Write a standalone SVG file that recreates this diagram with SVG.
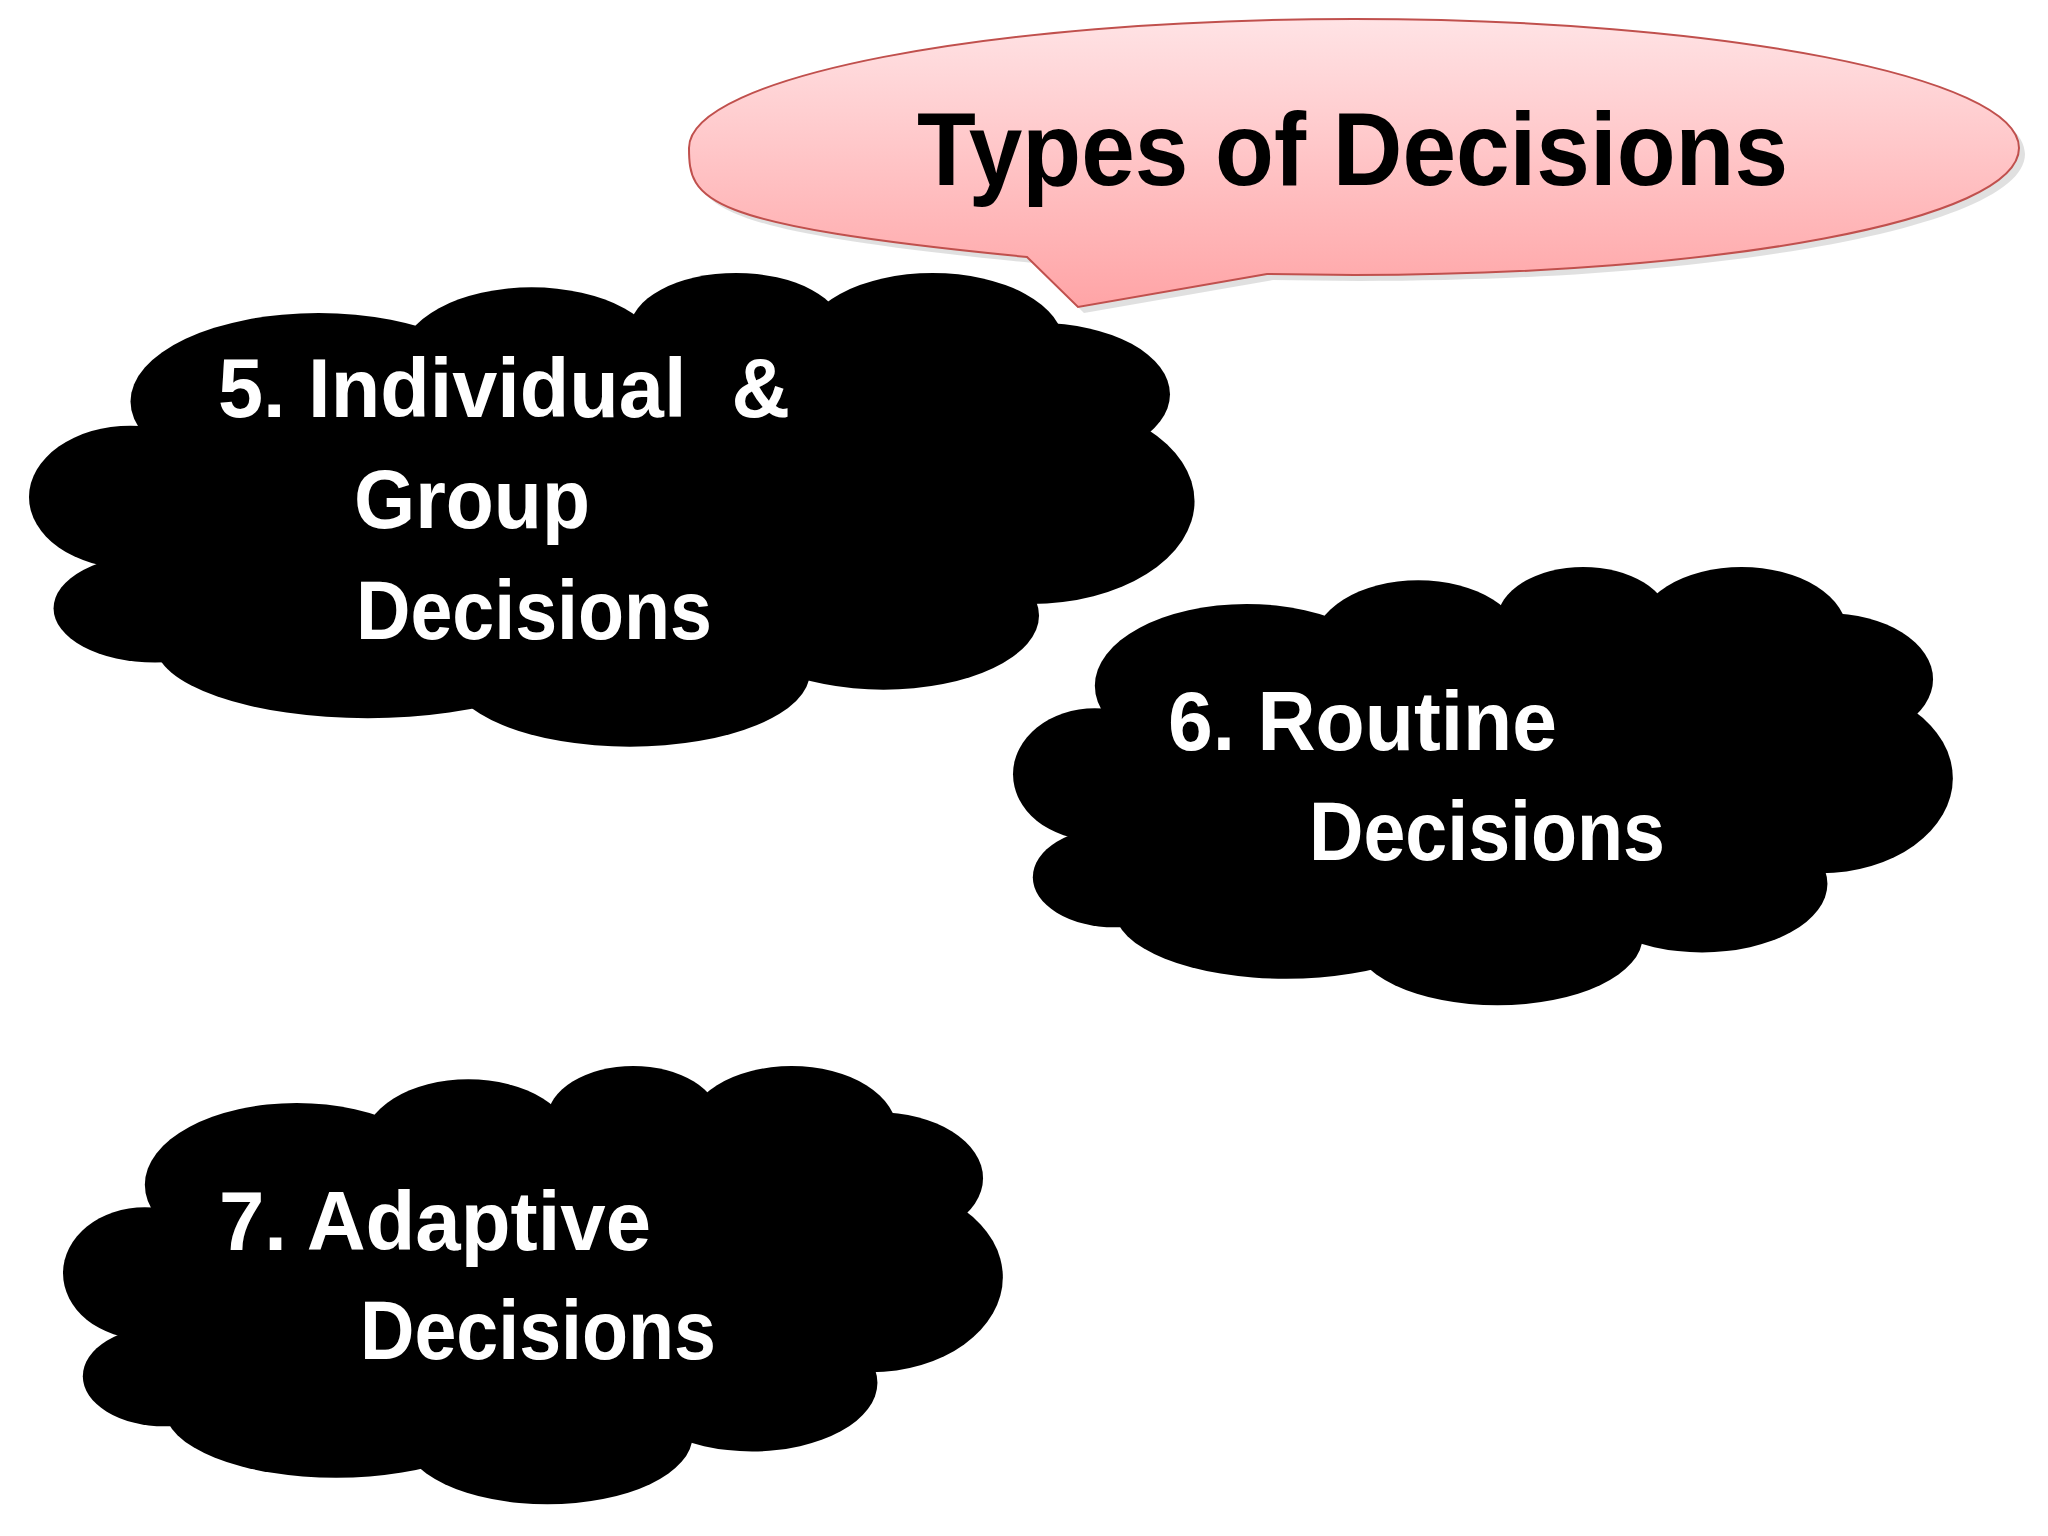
<svg xmlns="http://www.w3.org/2000/svg" width="2048" height="1536" viewBox="0 0 2048 1536">
<defs>
<linearGradient id="pk" x1="0" y1="0" x2="0" y2="1">
<stop offset="0" stop-color="#ffe3e5"/><stop offset="1" stop-color="#ffa4a6"/>
</linearGradient>
<g id="cloud">
<ellipse cx="62" cy="157" rx="62" ry="50"/>
<ellipse cx="77" cy="235" rx="62" ry="38"/>
<ellipse cx="207" cy="260" rx="130" ry="52"/>
<ellipse cx="367" cy="280" rx="110" ry="52"/>
<ellipse cx="522" cy="240" rx="95" ry="52"/>
<ellipse cx="612" cy="160" rx="100" ry="72"/>
<ellipse cx="617" cy="85" rx="80" ry="50"/>
<ellipse cx="552" cy="50" rx="80" ry="50"/>
<ellipse cx="432" cy="40" rx="65" ry="40"/>
<ellipse cx="307" cy="60" rx="80" ry="50"/>
<ellipse cx="177" cy="90" rx="115" ry="62"/>
<ellipse cx="352" cy="170" rx="300" ry="120"/>
</g>
<style>
.t{font-family:"Liberation Sans",Arial,sans-serif;font-weight:bold;font-size:84px;fill:#fff}
</style>
</defs>
<rect width="2048" height="1536" fill="#fff"/>
<g id="title">
<path d="M1027,257 C700,225 689,200 689,148 C689,77 987,19 1354,19 C1721,19 2019,77 2019,148 C2019,220 1721,275 1354,275 L1267,274 L1078,307 Z" fill="#999" opacity="0.3" transform="translate(6,6)"/>
<path d="M1027,257 C700,225 689,200 689,148 C689,77 987,19 1354,19 C1721,19 2019,77 2019,148 C2019,220 1721,275 1354,275 L1267,274 L1078,307 Z" fill="url(#pk)" stroke="#c0504d" stroke-width="2"/>
<text x="917" y="185" font-family="Liberation Sans,Arial,sans-serif" font-weight="bold" font-size="104" textLength="871" lengthAdjust="spacingAndGlyphs" fill="#000">Types of Decisions</text>
</g>
<g id="cloud5">
<use href="#cloud" transform="translate(29,273) scale(1.637,1.427)"/>
<text class="t" x="218" y="417" textLength="572" lengthAdjust="spacingAndGlyphs" xml:space="preserve">5. Individual  &amp;</text>
<text class="t" x="354" y="528" textLength="236" lengthAdjust="spacingAndGlyphs">Group</text>
<text class="t" x="356" y="639" textLength="356" lengthAdjust="spacingAndGlyphs">Decisions</text>
</g>
<g id="cloud6">
<use href="#cloud" transform="translate(1013,567) scale(1.32)"/>
<text class="t" x="1168" y="750" textLength="389" lengthAdjust="spacingAndGlyphs">6. Routine</text>
<text class="t" x="1309" y="860" textLength="356" lengthAdjust="spacingAndGlyphs">Decisions</text>
</g>
<g id="cloud7">
<use href="#cloud" transform="translate(63,1066) scale(1.32)"/>
<text class="t" x="219" y="1250" textLength="432" lengthAdjust="spacingAndGlyphs">7. Adaptive</text>
<text class="t" x="360" y="1359" textLength="356" lengthAdjust="spacingAndGlyphs">Decisions</text>
</g>
<g id="connectors"/>
</svg>
